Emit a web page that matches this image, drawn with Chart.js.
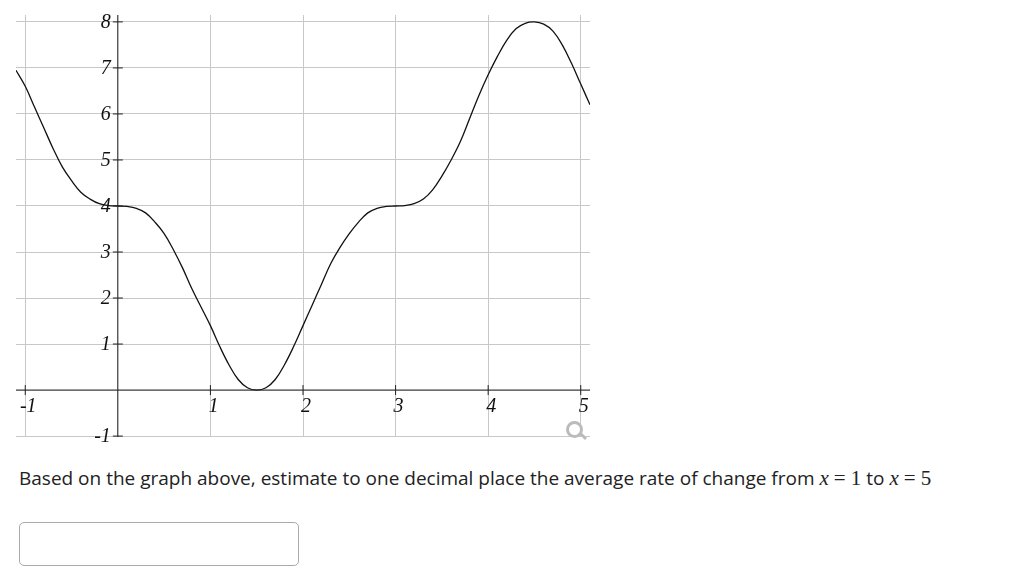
<!DOCTYPE html>
<html>
<head>
<meta charset="utf-8">
<script src="https://cdn.jsdelivr.net/npm/chart.js@4.4.0/dist/chart.umd.min.js"></script>
<style>
body { margin: 0; background: #fff; font-family: "Open Sans", Lato, sans-serif; }
#wrap { position: absolute; left: 0; top: 0; width: 600px; height: 450px; }
#q { position: absolute; left: 19px; top: 465px; font-size: 19px; color: #222; white-space: nowrap; }
#q i { font-family: "Liberation Serif", serif; font-size: 21px; }
#q .m { font-family: "Liberation Serif", serif; font-size: 21px; }
#box { position: absolute; left: 19px; top: 522px; width: 278px; height: 42px; border: 1px solid #aaa; border-radius: 5px; }
#mag { position: absolute; left: 566px; top: 421px; width: 11px; height: 11px; border: 3px solid #bbb; border-radius: 50%; }
#mag:after { content: ""; position: absolute; left: 11px; top: 11px; width: 7px; height: 3px; background: #bbb; transform: rotate(45deg); }
</style>
</head>
<body>
<div id="wrap"><canvas id="canvas"></canvas></div>
<div id="mag"></div>
<div id="q">Based on the graph above, estimate to one decimal place the average rate of change from <i>x</i> <span class="m">= 1</span> to <i>x</i> <span class="m">= 5</span></div>
<div id="box"></div>
<script>
const ctx = document.getElementById('canvas');

// curve
const xs = [-1.1, -1, -0.9, -0.8, -0.7, -0.6, -0.5, -0.4, -0.3, -0.2, -0.1, 0,
  0.1, 0.2, 0.3, 0.4, 0.5, 0.6, 0.7, 0.8, 0.9, 1, 1.1, 1.2, 1.3, 1.4, 1.5,
  1.6, 1.7, 1.8, 1.9, 2, 2.1, 2.2, 2.3, 2.4, 2.5, 2.6, 2.7, 2.8, 2.9, 3,
  3.1, 3.2, 3.3, 3.4, 3.5, 3.6, 3.7, 3.8, 3.9, 4, 4.1, 4.2, 4.3, 4.4, 4.5,
  4.6, 4.7, 4.8, 4.9, 5, 5.1];
const ys = [6.95, 6.6, 6.15, 5.7, 5.25, 4.85, 4.55, 4.3, 4.15, 4.05, 4.01, 4,
  3.99, 3.95, 3.85, 3.65, 3.4, 3.05, 2.65, 2.2, 1.8, 1.4, 0.95, 0.55, 0.23, 0.05, 0,
  0.05, 0.23, 0.55, 0.95, 1.4, 1.85, 2.3, 2.75, 3.1, 3.4, 3.65, 3.85, 3.95, 3.99, 4,
  4.01, 4.05, 4.15, 4.35, 4.65, 5.0, 5.4, 5.9, 6.4, 6.85, 7.25, 7.6, 7.85, 7.97, 8,
  7.95, 7.8, 7.5, 7.1, 6.65, 6.2];
const xTicks = [-1, 1, 2, 3, 4, 5];
const yTicks = [-1, 1, 2, 3, 4, 5, 6, 7, 8];

const axesPlugin = {
    id: 'axes',
    afterDatasetsDraw(chart) {
        const c = chart.ctx, sx = chart.scales.x, sy = chart.scales.y;
        const x0 = sx.getPixelForValue(0), y0 = sy.getPixelForValue(0);
        const a = chart.chartArea;
        c.save();
        c.strokeStyle = '#222';
        c.lineWidth = 1;
        c.beginPath();
        c.moveTo(a.left, y0); c.lineTo(a.right, y0);
        c.moveTo(x0, a.top); c.lineTo(x0, a.bottom);
        xTicks.forEach(v => { const p = sx.getPixelForValue(v); c.moveTo(p, y0 - 5); c.lineTo(p, y0 + 5); });
        yTicks.forEach(v => { const p = sy.getPixelForValue(v); c.moveTo(x0 - 5, p); c.lineTo(x0 + 5, p); });
        c.stroke();
        c.fillStyle = '#111';
        c.font = 'italic 20px "Liberation Serif", serif';
        c.textAlign = 'center';
        c.textBaseline = 'top';
        xTicks.forEach(v => c.fillText(String(v), sx.getPixelForValue(v) + 3, y0 + 7));
        c.textAlign = 'right';
        c.textBaseline = 'middle';
        yTicks.forEach(v => c.fillText(String(v), x0 - 7, sy.getPixelForValue(v) + 1));
        c.restore();
    }
};

new Chart(ctx, {
    type: 'line',
    data: {
        datasets: [{
            data: xs.map((x, i) => ({ x: x, y: ys[i] })),
            borderColor: '#111',
            borderWidth: 1.3,
            pointRadius: 0,
            tension: 0.4
        }]
    },
    options: {
        responsive: true,
        maintainAspectRatio: false,
        animation: false,
        layout: { padding: { left: 16, top: 15, right: 10, bottom: 13 } },
        plugins: { legend: { display: false }, tooltip: { enabled: false } },
        scales: {
            x: {
                type: 'linear', min: -1.1, max: 5.1,
                ticks: { display: false, stepSize: 1 },
                afterBuildTicks: s => { s.ticks = [-1, 0, 1, 2, 3, 4, 5].map(v => ({ value: v })); },
                grid: { color: '#c8c8c8', drawTicks: false },
                border: { display: false }
            },
            y: {
                min: -1.02, max: 8.15,
                ticks: { display: false, stepSize: 1 },
                afterBuildTicks: s => { s.ticks = [-1, 0, 1, 2, 3, 4, 5, 6, 7, 8].map(v => ({ value: v })); },
                grid: { color: '#c8c8c8', drawTicks: false },
                border: { display: false }
            }
        }
    },
    plugins: [axesPlugin]
});
</script>
</body>
</html>
